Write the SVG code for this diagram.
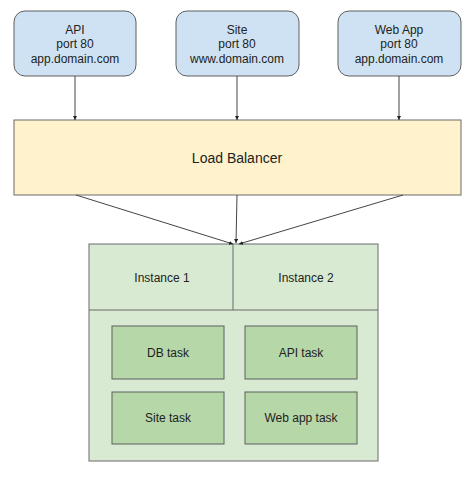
<svg xmlns="http://www.w3.org/2000/svg" width="474" height="485" viewBox="0 0 474 485">
<defs>
<style>
text{font-family:"Liberation Sans",Arial,sans-serif;fill:#222;text-anchor:middle;font-size:12px}
.src{fill:#cfe2f3;stroke:#5f5f5f;stroke-width:1}
.lb{fill:#fff2cc;stroke:#6b6b6b;stroke-width:1}
.cont{fill:#d9ead3;stroke:#6b6b6b;stroke-width:1}
.task{fill:#b6d7a8;stroke:#5f5f5f;stroke-width:1}
.conn{stroke:#444;stroke-width:1;fill:none;marker-end:url(#ah)}
</style>
<marker id="ah" viewBox="0 0 6 6" refX="6" refY="3" markerWidth="4" markerHeight="4" orient="auto" markerUnits="userSpaceOnUse">
<path d="M0,0 L6,3 L0,6 z" fill="#222"/>
</marker>
</defs>
<rect width="474" height="485" fill="#fff"/>
<g id="api">
<rect class="src" x="14" y="11" width="122" height="65" rx="11"/>
<text x="75" y="34">API</text>
<text x="75" y="48">port 80</text>
<text x="75" y="62.5">app.domain.com</text>
</g>
<g id="site">
<rect class="src" x="176" y="11" width="123" height="65" rx="11"/>
<text x="237" y="34">Site</text>
<text x="237" y="48">port 80</text>
<text x="237" y="62.5">www.domain.com</text>
</g>
<g id="webapp">
<rect class="src" x="338" y="11" width="123" height="65" rx="11"/>
<text x="399" y="34">Web App</text>
<text x="399" y="48">port 80</text>
<text x="399" y="62.5">app.domain.com</text>
</g>
<g id="loadbalancer">
<rect class="lb" x="14" y="120" width="447" height="75"/>
<text x="237" y="163" style="font-size:14px">Load Balancer</text>
</g>
<g id="instances">
<rect class="cont" x="89" y="244" width="289" height="217"/>
<line x1="233" y1="244" x2="233" y2="310" stroke="#6b6b6b"/>
<line x1="89" y1="310" x2="378" y2="310" stroke="#6b6b6b"/>
<text x="162" y="282">Instance 1</text>
<text x="306" y="282">Instance 2</text>
</g>
<g id="dbtask">
<rect class="task" x="112" y="326" width="112" height="53"/>
<text x="168" y="357">DB task</text>
</g>
<g id="apitask">
<rect class="task" x="245" y="326" width="112" height="53"/>
<text x="301" y="357">API task</text>
</g>
<g id="sitetask">
<rect class="task" x="112" y="392" width="112" height="52"/>
<text x="168" y="422">Site task</text>
</g>
<g id="webapptask">
<rect class="task" x="245" y="392" width="112" height="52"/>
<text x="301" y="422">Web app task</text>
</g>
<g id="connectors">
<line class="conn" x1="75" y1="76" x2="75" y2="120"/>
<line class="conn" x1="237" y1="76" x2="237" y2="120"/>
<line class="conn" x1="399" y1="76" x2="399" y2="120"/>
<line class="conn" x1="76" y1="195" x2="233" y2="244"/>
<line class="conn" x1="237" y1="195" x2="236" y2="243"/>
<line class="conn" x1="403" y1="195" x2="239" y2="244"/>
</g>
</svg>
